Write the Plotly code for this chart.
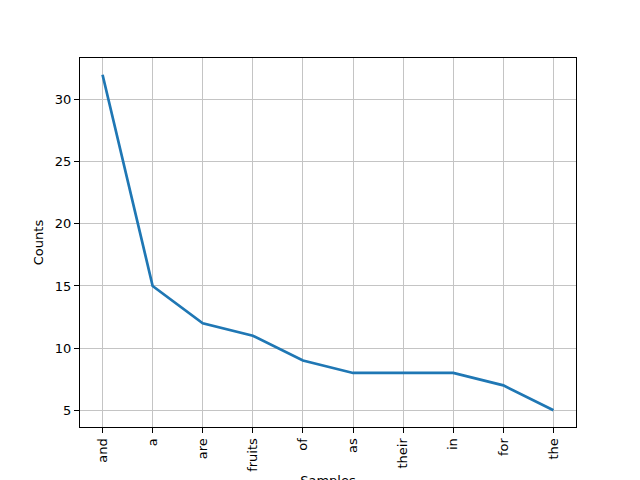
import plotly.graph_objects as go

samples = ["and", "a", "are", "fruits", "of", "as", "their", "in", "for", "the"]
counts = [32, 15, 12, 11, 9, 8, 8, 8, 7, 5]

fig = go.Figure()
fig.add_trace(
    go.Scatter(
        x=list(range(len(samples))),
        y=counts,
        mode="lines",
        line=dict(color="#1f77b4", width=2.7),
        showlegend=False,
    )
)

axis_common = dict(
    showline=True,
    linecolor="black",
    linewidth=1,
    mirror=True,
    ticks="outside",
    ticklen=5,
    tickwidth=1,
    tickcolor="black",
    showgrid=True,
    gridcolor="#c4c4c4",
    gridwidth=1,
    zeroline=False,
    tickfont=dict(family="DejaVu Sans", size=13, color="black"),
)

fig.update_xaxes(
    tickmode="array",
    tickvals=list(range(len(samples))),
    ticktext=samples,
    tickangle=-90,
    range=[-0.45, 9.45],
    title=dict(text="Samples", font=dict(family="DejaVu Sans", size=13, color="black"), standoff=15),
    automargin=False,
    **axis_common,
)
fig.update_yaxes(
    tickvals=[5, 10, 15, 20, 25, 30],
    range=[3.65, 33.35],
    title=dict(text="Counts", font=dict(family="DejaVu Sans", size=13, color="black"), standoff=8),
    automargin=False,
    **axis_common,
)

# page body has an 8px margin, so shift everything up/left by 8
fig.update_layout(
    width=640,
    height=480,
    margin=dict(l=72, r=72, t=50, b=61),
    plot_bgcolor="white",
    paper_bgcolor="white",
    font=dict(family="DejaVu Sans", size=13, color="black"),
)

fig.write_html("out.html")
